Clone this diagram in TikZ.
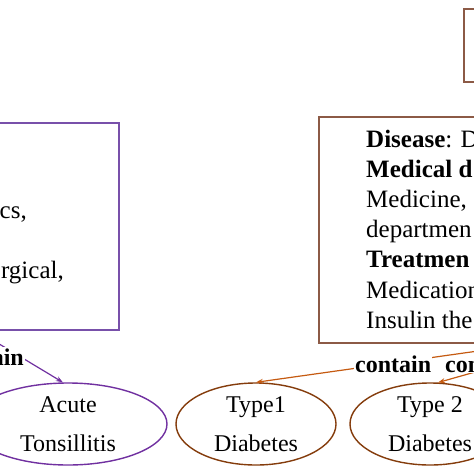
\documentclass[tikz,border=0pt]{standalone}
\usepackage{fontspec}
\setmainfont{Liberation Serif}
\usetikzlibrary{shapes.geometric,arrows.meta}
\definecolor{boxbrown}{RGB}{140,90,70}
\definecolor{ellbrown}{RGB}{132,60,12}
\definecolor{arrbrown}{RGB}{197,90,17}
\definecolor{arrpurple}{RGB}{112,48,160}
\definecolor{boxpurple}{RGB}{120,80,170}
\tikzset{
  txt/.style={font=\fontsize{25}{30}\selectfont, inner sep=0pt, anchor=base west},
  txtr/.style={font=\fontsize{25}{30}\selectfont, inner sep=0pt, anchor=base east},
  lbl/.style={font=\fontsize{24}{30}\selectfont\bfseries, inner sep=1pt, fill=white},
  ell/.style={ellipse, draw, line width=1.4pt, align=center, inner xsep=0pt, inner ysep=-8pt,
    minimum height=82pt, font=\fontsize{24}{39}\selectfont},
  conn/.style={line width=1.2pt, -{Stealth[length=7pt,width=5pt]}}
}
\begin{document}
\begin{tikzpicture}[x=1pt,y=-1pt]
\useasboundingbox (0,0) rectangle (474,474);
\clip (0,0) rectangle (474,474);
% boxes
\draw[boxbrown, line width=1.4pt] (464,9) rectangle (700,82);
\draw[boxbrown, line width=1.4pt] (319,117) rectangle (900,343);
\draw[boxpurple, line width=1.4pt] (-400,123) rectangle (119,330);
% right box text
\node[txt] (r1) at (366,147) {\textbf{Disease}: D};
\node[txt] (r2) at (366,177) {\textbf{Medical d}};
\node[txt] (r3) at (366,207) {Medicine,};
\node[txt] (r4) at (366,237) {departmen};
\node[txt] (r5) at (366,267) {\textbf{Treatmen}};
\node[txt] (r6) at (366,298) {Medication};
\node[txt] (r7) at (366,328) {Insulin the};
% left box text
\node[txtr] (l1) at (27,218) {cs,};
\node[txtr] (l2) at (64,278) {rgical,};
% ellipses
\node[ell, draw=arrpurple, minimum width=198pt] (acute) at (68,424) {Acute\\Tonsillitis};
\node[ell, draw=ellbrown, minimum width=160pt] (type1) at (256,424) {Type1\\Diabetes};
\node[ell, draw=ellbrown, minimum width=160pt] (type2) at (430,424) {Type 2\\Diabetes};
% off-picture parents
\coordinate (pleft) at (-200,224);
\coordinate (pright) at (620,331);
% connectors
\draw[conn, arrpurple] (pleft) -- (acute.97);
\node[lbl, anchor=base east] (cl) at (25,365) {contain};
\draw[conn, arrbrown] (pright) -- (type2.79);
\node[lbl, anchor=base west] (c2) at (444,372) {contain};
\draw[conn, arrbrown] (pright) -- (type1.north);
\node[lbl, anchor=base west] (c1) at (354,372) {contain};
\end{tikzpicture}
\end{document}
